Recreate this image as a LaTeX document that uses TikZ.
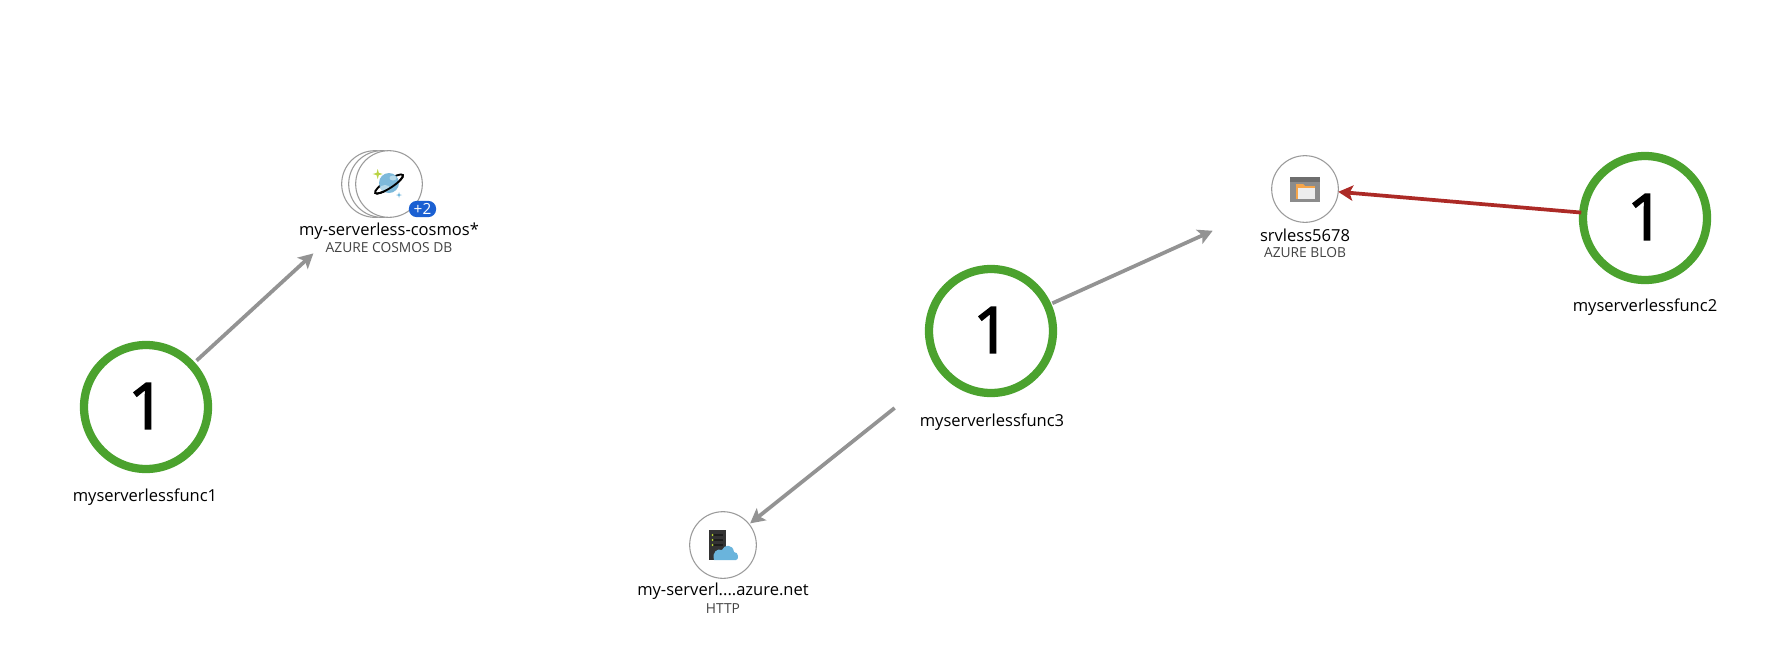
\documentclass[tikz,border=0pt]{standalone}
\usepackage{fontspec}
\setmainfont{Open Sans}
\newfontfamily\digitfont{Open Sans}[FakeBold=2.4]
\usetikzlibrary{arrows.meta}
\definecolor{ringgreen}{HTML}{4BA22E}
\definecolor{linegray}{HTML}{939393}
\definecolor{linered}{HTML}{AC2A26}
\definecolor{subgray}{HTML}{424242}
\definecolor{edgegray}{HTML}{9A9A9A}
\definecolor{badgeblue}{HTML}{1B60D2}
\definecolor{planetblue}{HTML}{7DB9DA}
\definecolor{planetlight}{HTML}{B5D8E8}
\definecolor{cloudblue}{HTML}{6AB4DC}
\definecolor{blobgray}{HTML}{8C8C8C}
\definecolor{blobtop}{HTML}{6E6E6E}
\definecolor{folder}{HTML}{F5A54A}
\definecolor{paper}{HTML}{EDEDED}
\definecolor{serverdark}{HTML}{333333}
\definecolor{serverslot}{HTML}{1C1C1C}
\definecolor{serverled}{HTML}{B5D334}
\definecolor{starlime}{HTML}{BAD344}
\tikzset{
  x=0.75pt,y=-0.75pt,
  funcnode/.style={circle,draw=ringgreen,line width=6.2pt,minimum size=93pt,inner sep=0pt,outer sep=0pt,text=black},
  digit/.style={font=\digitfont\fontsize{48}{48}\selectfont,text=black,inner sep=0pt},
  resnode/.style={circle,draw=edgegray,line width=0.8pt,fill=white,minimum size=50pt,inner sep=0pt,outer sep=0pt},
  mainlabel/.style={font=\fontsize{12.4}{15}\selectfont,text=black,inner sep=0pt},
  sublabel/.style={font=\fontsize{10.35}{12}\selectfont,text=subgray,inner sep=0pt},
  conn/.style={line width=2.8pt,draw=linegray,-{Stealth[length=11pt,width=11.5pt,inset=2.5pt]}},
  connred/.style={conn,draw=linered,-{Stealth[length=11pt,width=11.5pt,inset=2.5pt]}},
  badge/.style={rounded corners=6pt,fill=badgeblue,text=white,font=\fontsize{11.5}{11.5}\selectfont,minimum width=20.5pt,minimum height=12.2pt,inner sep=0pt},
}
\begin{document}
\begin{tikzpicture}
\useasboundingbox (0,0) rectangle (1770,662);
\node[funcnode] (f1) at (146,407) {};
\node[funcnode] (f3) at (991,331) {};
\node[funcnode] (f2) at (1645,218) {};
\node[digit] (d1) at (146.5,406) {1};
\node[digit] (d3) at (991.5,330) {1};
\node[digit] (d2) at (1645.5,217) {1};
\node[mainlabel] (f1l) at (145,497) {myserverlessfunc1};
\node[mainlabel] (f3l) at (992,422) {myserverlessfunc3};
\node[mainlabel] (f2l) at (1645,307) {myserverlessfunc2};

\node[resnode] (c3) at (375,184) {};
\node[resnode] (c2) at (382,184) {};
\node[resnode] (cosmos) at (389,184) {};
\node[badge] (plus) at (422.5,209) {+2};
\node[mainlabel] (cosmosl) at (389,231) {my-serverless-cosmos*};
\node[sublabel] (cosmoss) at (389,248) {AZURE COSMOS DB};

\node[resnode] (blob) at (1305,189) {};
\node[mainlabel] (blobl) at (1305,235) {srvless5678};
\node[sublabel] (blobs) at (1305,253) {AZURE BLOB};

\node[resnode] (http) at (723,545) {};
\node[mainlabel] (httpl) at (723,591) {my-serverl....azure.net};
\node[sublabel] (https) at (723,609) {HTTP};

% cosmos icon
\draw[black,line width=1.4pt,rotate around={33:(389,184)}] (389,184) ellipse (16.5 and 4);
\fill[planetblue] (389,183) circle (10);
\fill[planetlight] (385,188) ellipse (5 and 3);
\fill[planetlight] (393,178) ellipse (3.5 and 2.5);
\draw[black,line width=1.4pt,rotate around={33:(389,184)}] (372.5,184) arc[start angle=180,end angle=0,x radius=16.5,y radius=4];
\fill[starlime] (377.7,169) -- (378.8,172.9) -- (382.7,174) -- (378.8,175.1) -- (377.7,179) -- (376.6,175.1) -- (372.7,174) -- (376.6,172.9) -- cycle;
\fill[cloudblue] (399,192) -- (399.6,194.4) -- (402,195) -- (399.6,195.6) -- (399,198) -- (398.4,195.6) -- (396,195) -- (398.4,194.4) -- cycle;

% blob icon
\fill[blobgray] (1290,177) rectangle (1320,202.3);
\fill[blobtop] (1290,177) rectangle (1320,181.5);
\fill[folder] (1296,184) -- (1303,184) -- (1305,186) -- (1296,186) -- cycle;
\fill[folder] (1296,186) rectangle (1315,198.5);
\fill[paper] (1297.5,187.5) rectangle (1315,198.5);

% http icon
\fill[serverdark] (708.5,530) rectangle (725.5,560);
\foreach \yy in {535,540,545}{
  \fill[serverslot] (711,\yy-1.2) rectangle (723,\yy+1.2);
  \fill[serverled] (712.5,\yy) circle (1.2);
}
\fill[cloudblue] (714,560) .. controls (712,552) and (717,548) .. (722,550) .. controls (724,544) and (733,544) .. (734,552) .. controls (739,552) and (739,560) .. (736,560) -- cycle;

\draw[conn,shorten <=5pt,shorten >=52pt] (f1) -- (cosmos);
\draw[conn,shorten <=4pt,shorten >=51pt] (f3) -- (blob);
\draw[conn,shorten <=46pt,shorten >=1pt] (f3) -- (http);
\draw[connred,shorten <=1.5pt,shorten >=0pt] (f2) -- (blob);
\end{tikzpicture}
\end{document}
